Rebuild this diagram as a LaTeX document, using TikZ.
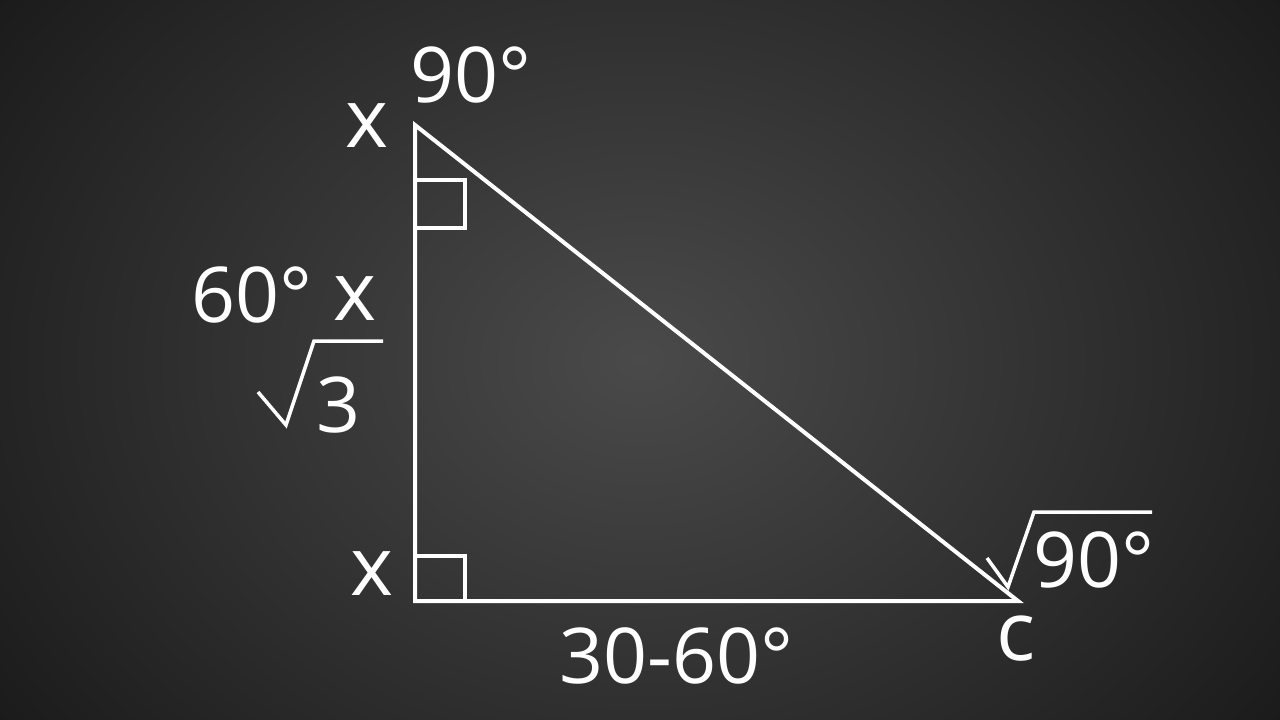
\documentclass[tikz,border=0pt]{standalone}
\usepackage{fontspec}
\setmainfont{Open Sans}
\definecolor{bgin}{HTML}{4A4A4A}
\definecolor{bgout}{HTML}{181818}
\begin{document}
\begin{tikzpicture}[x=1pt,y=-1pt,
  lbl/.style={text=white, inner sep=0pt, anchor=base west, font=\fontsize{77}{90}\selectfont},
  xlbl/.style={text=white, inner sep=0pt, anchor=base west, font=\fontsize{82}{90}\selectfont},
  edge/.style={draw=white, line width=4pt},
  radical/.style={draw=white, line width=3.5pt, line join=miter, line cap=butt}]
\useasboundingbox (0,0) rectangle (1280,720);
\begin{scope}
\clip (0,0) rectangle (1280,720);
\shade[inner color=bgin, outer color=bgout] (-200,-300) rectangle (1480,1020);
\end{scope}
% vertices
\coordinate (A) at (415,125);
\coordinate (B) at (415,601);
\coordinate (C) at (1018,601);
\draw[edge, line join=miter] (A) -- (B) -- (C) -- cycle;
% right-angle marks
\draw[edge] (415,180) rectangle (465,228);
\draw[edge] (415,556) rectangle (465,601);
% labels
\node[lbl] (top90) at (410,102) {90°};
\node[xlbl] (topx) at (345,147) {x};
\node[lbl] (sixty) at (191,322) {60°};
\node[xlbl] (midx) at (333,320) {x};
\node[lbl] (three) at (316,432) {3};
\node[xlbl] (botx) at (350,595) {x};
\node[lbl] (base) at (559,683) {30-60°};
\node[lbl] (r90) at (1033,587) {90°};
\node[xlbl] (cc) at (996,660) {c};
% radical signs
\draw[radical] (258,392) -- (286,425) -- (314,341) -- (383,341);
\draw[radical] (987,558) -- (1008,587) -- (1034,512) -- (1152,512);
\end{tikzpicture}
\end{document}
